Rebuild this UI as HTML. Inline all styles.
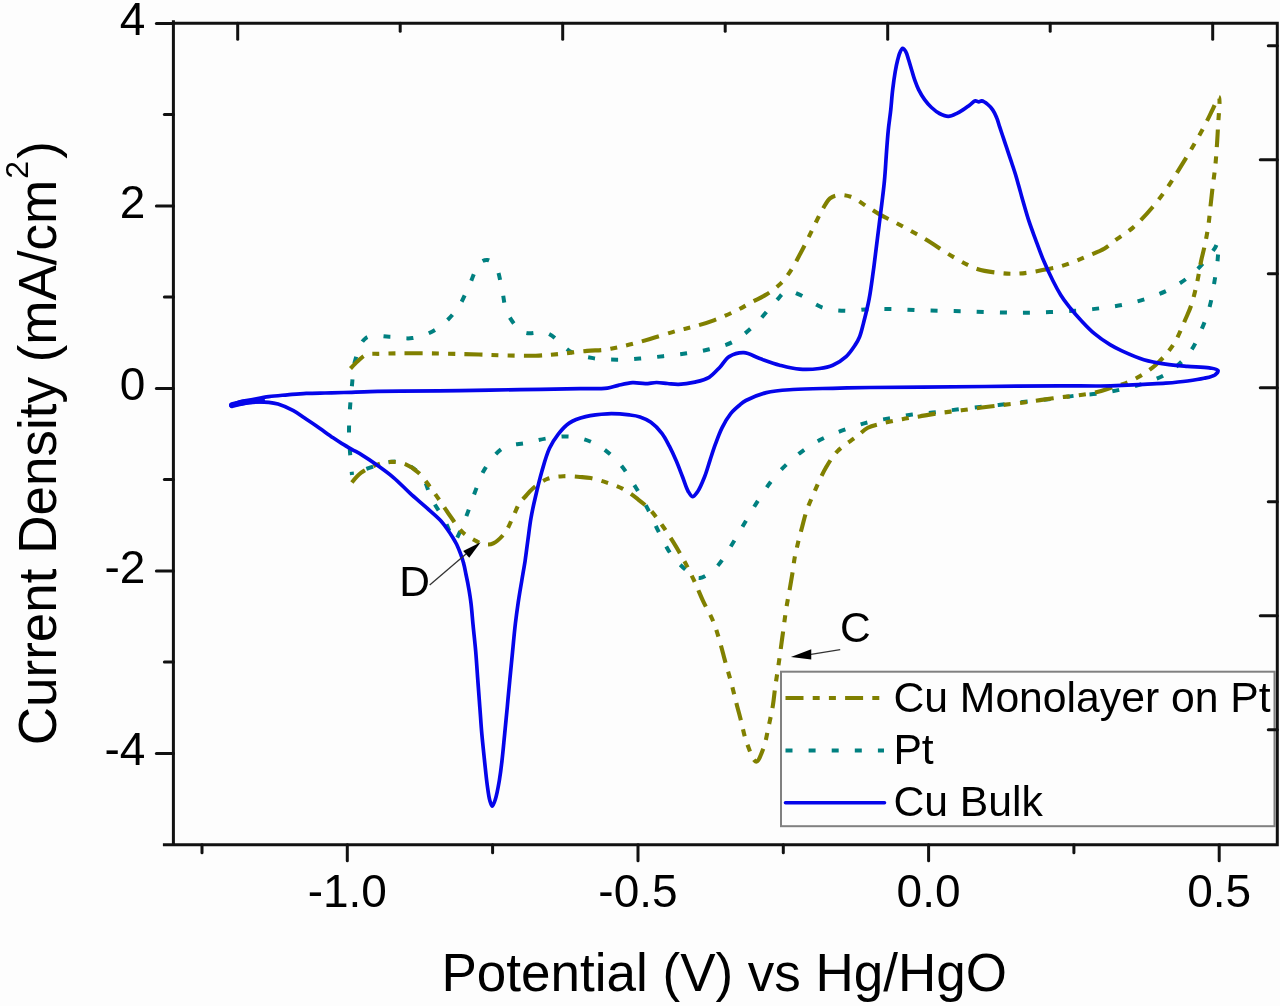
<!DOCTYPE html>
<html><head><meta charset="utf-8"><title>Cyclic voltammetry</title><style>
html,body{margin:0;padding:0;background:#fdfdfd;overflow:hidden}
svg{display:block}
text{font-family:"Liberation Sans",Arial,sans-serif;fill:#000}
</style></head><body>
<svg width="1280" height="1006" viewBox="0 0 1280 1006">
<rect x="781" y="671.7" width="493.5" height="154.5" fill="#fdfdfd" stroke="#808080" stroke-width="2"/>
<line x1="785.5" y1="698" x2="882" y2="698" stroke="#808000" stroke-width="4.2" stroke-dasharray="18 9.2 7 9.2 7 9.2"/>
<line x1="785.5" y1="750.6" x2="884" y2="750.6" stroke="#008080" stroke-width="4" stroke-dasharray="7 16.1"/>
<line x1="785.5" y1="802.8" x2="884.5" y2="802.8" stroke="#0505ea" stroke-width="3.6" stroke-linecap="round"/>
<text x="893.4" y="711.5" font-size="42.7">Cu Monolayer on Pt</text>
<text x="893.4" y="763.5" font-size="42.7">Pt</text>
<text x="893.4" y="816.4" font-size="42.7">Cu Bulk</text>
<path d="M173.4,23.3 H1277.3 V844.8 H164.4 M173.4,844.8 V21.8" fill="none" stroke="#111" stroke-width="3" stroke-linecap="square"/>
<line x1="156.4" y1="23.4" x2="173.4" y2="23.4" stroke="#111" stroke-width="3" stroke-linecap="round"/>
<line x1="164.4" y1="114.6" x2="173.4" y2="114.6" stroke="#111" stroke-width="3" stroke-linecap="round"/>
<line x1="156.4" y1="205.9" x2="173.4" y2="205.9" stroke="#111" stroke-width="3" stroke-linecap="round"/>
<line x1="164.4" y1="297.1" x2="173.4" y2="297.1" stroke="#111" stroke-width="3" stroke-linecap="round"/>
<line x1="156.4" y1="388.4" x2="173.4" y2="388.4" stroke="#111" stroke-width="3" stroke-linecap="round"/>
<line x1="164.4" y1="479.6" x2="173.4" y2="479.6" stroke="#111" stroke-width="3" stroke-linecap="round"/>
<line x1="156.4" y1="570.9" x2="173.4" y2="570.9" stroke="#111" stroke-width="3" stroke-linecap="round"/>
<line x1="164.4" y1="662.1" x2="173.4" y2="662.1" stroke="#111" stroke-width="3" stroke-linecap="round"/>
<line x1="156.4" y1="753.4" x2="173.4" y2="753.4" stroke="#111" stroke-width="3" stroke-linecap="round"/>
<line x1="202.0" y1="844.8" x2="202.0" y2="852.8" stroke="#111" stroke-width="3" stroke-linecap="round"/>
<line x1="347.3" y1="844.8" x2="347.3" y2="860.8" stroke="#111" stroke-width="3" stroke-linecap="round"/>
<line x1="492.6" y1="844.8" x2="492.6" y2="852.8" stroke="#111" stroke-width="3" stroke-linecap="round"/>
<line x1="638.0" y1="844.8" x2="638.0" y2="860.8" stroke="#111" stroke-width="3" stroke-linecap="round"/>
<line x1="783.3" y1="844.8" x2="783.3" y2="852.8" stroke="#111" stroke-width="3" stroke-linecap="round"/>
<line x1="928.6" y1="844.8" x2="928.6" y2="860.8" stroke="#111" stroke-width="3" stroke-linecap="round"/>
<line x1="1073.9" y1="844.8" x2="1073.9" y2="852.8" stroke="#111" stroke-width="3" stroke-linecap="round"/>
<line x1="1219.2" y1="844.8" x2="1219.2" y2="860.8" stroke="#111" stroke-width="3" stroke-linecap="round"/>
<line x1="237.7" y1="23.3" x2="237.7" y2="39.3" stroke="#111" stroke-width="3" stroke-linecap="round"/>
<line x1="400.2" y1="23.3" x2="400.2" y2="31.3" stroke="#111" stroke-width="3" stroke-linecap="round"/>
<line x1="562.7" y1="23.3" x2="562.7" y2="39.3" stroke="#111" stroke-width="3" stroke-linecap="round"/>
<line x1="725.2" y1="23.3" x2="725.2" y2="31.3" stroke="#111" stroke-width="3" stroke-linecap="round"/>
<line x1="887.7" y1="23.3" x2="887.7" y2="39.3" stroke="#111" stroke-width="3" stroke-linecap="round"/>
<line x1="1050.2" y1="23.3" x2="1050.2" y2="31.3" stroke="#111" stroke-width="3" stroke-linecap="round"/>
<line x1="1212.7" y1="23.3" x2="1212.7" y2="39.3" stroke="#111" stroke-width="3" stroke-linecap="round"/>
<line x1="1268.3" y1="45.8" x2="1277.3" y2="45.8" stroke="#111" stroke-width="3" stroke-linecap="round"/>
<line x1="1260.3" y1="159.8" x2="1277.3" y2="159.8" stroke="#111" stroke-width="3" stroke-linecap="round"/>
<line x1="1268.3" y1="273.8" x2="1277.3" y2="273.8" stroke="#111" stroke-width="3" stroke-linecap="round"/>
<line x1="1260.3" y1="387.8" x2="1277.3" y2="387.8" stroke="#111" stroke-width="3" stroke-linecap="round"/>
<line x1="1268.3" y1="501.8" x2="1277.3" y2="501.8" stroke="#111" stroke-width="3" stroke-linecap="round"/>
<line x1="1260.3" y1="615.8" x2="1277.3" y2="615.8" stroke="#111" stroke-width="3" stroke-linecap="round"/>
<line x1="1268.3" y1="729.8" x2="1277.3" y2="729.8" stroke="#111" stroke-width="3" stroke-linecap="round"/>
<path d="M352.0,475.0 C352.0,475.0 350.5,459.5 350.0,452.0 C349.5,444.8 349.0,438.2 349.0,431.0 C349.0,423.5 349.5,415.7 350.0,408.0 C350.5,400.3 351.2,392.7 352.0,385.0 C352.8,377.1 352.7,368.8 355.0,361.0 C357.3,353.0 360.1,341.8 366.1,337.8 C371.8,334.0 381.5,336.6 389.2,336.7 C396.9,336.8 404.6,339.2 412.2,338.1 C420.0,337.0 428.2,334.2 435.3,329.8 C443.1,325.0 451.1,317.0 456.7,309.6 C462.0,302.7 464.8,294.6 468.6,286.9 C472.5,279.1 475.5,267.0 479.8,263.0 C482.2,260.8 485.0,259.7 487.5,260.0 C490.3,260.4 493.5,263.0 495.7,266.2 C499.1,271.2 500.1,281.5 502.0,289.3 C504.0,297.2 503.8,306.0 507.4,313.1 C511.0,320.3 517.0,328.9 523.8,332.2 C530.3,335.3 539.5,330.3 546.9,333.0 C555.5,336.1 563.1,347.9 571.5,352.1 C578.6,355.7 585.7,356.8 593.1,358.1 C600.7,359.4 608.9,359.6 616.7,359.7 C624.4,359.8 631.9,359.2 639.6,358.6 C647.4,358.0 655.3,357.1 663.2,356.2 C671.0,355.3 679.0,354.5 686.7,353.3 C694.3,352.2 701.7,351.2 709.3,349.3 C717.2,347.3 725.7,345.7 733.2,341.7 C741.3,337.4 748.9,330.2 756.0,323.5 C763.2,316.7 770.2,306.9 776.0,301.0 C780.1,296.9 782.9,291.9 787.0,291.0 C790.8,290.1 794.8,292.7 799.5,294.7 C806.2,297.5 814.7,304.9 822.7,307.6 C830.2,310.1 838.0,310.5 845.7,310.8 C853.6,311.1 861.7,309.4 869.5,309.1 C877.1,308.8 884.5,309.0 892.1,309.1 C899.8,309.2 907.4,309.7 915.2,310.0 C923.1,310.3 931.1,310.5 939.0,310.7 C946.8,310.9 954.4,311.0 962.1,311.2 C969.8,311.4 977.2,311.8 985.1,312.0 C993.4,312.2 1002.6,312.5 1010.8,312.6 C1018.2,312.7 1024.7,312.7 1032.0,312.6 C1039.7,312.5 1047.7,312.2 1055.6,311.8 C1063.5,311.4 1071.5,311.0 1079.3,310.4 C1087.0,309.8 1094.5,309.0 1102.1,308.0 C1109.7,307.0 1117.4,306.0 1125.0,304.4 C1132.8,302.7 1140.5,300.7 1148.2,298.1 C1156.0,295.4 1163.9,292.5 1171.5,288.3 C1179.6,283.8 1187.9,278.2 1195.0,271.6 C1202.4,264.8 1211.3,253.5 1214.9,248.1 C1216.6,245.5 1217.4,241.8 1218.0,242.0 C1219.0,242.2 1218.2,253.2 1217.7,259.2 C1217.2,265.8 1215.9,272.7 1214.7,280.0 C1213.4,288.0 1212.2,297.1 1210.0,305.3 C1207.9,313.3 1205.2,320.9 1201.9,328.6 C1198.5,336.5 1195.3,344.9 1190.0,352.0 C1184.4,359.5 1176.6,367.1 1168.9,372.3 C1161.8,377.1 1153.8,379.9 1146.0,382.7 C1138.3,385.5 1130.3,387.4 1122.4,389.2 C1114.6,391.0 1106.8,392.4 1099.0,393.5 C1091.3,394.6 1083.6,394.7 1075.8,395.6 C1068.0,396.5 1060.0,397.9 1052.2,398.9 C1044.6,399.8 1037.1,400.4 1029.5,401.3 C1021.8,402.2 1013.9,403.2 1006.1,404.1 C998.3,405.0 990.4,405.9 982.7,406.7 C975.1,407.5 967.7,408.2 960.0,409.1 C952.1,410.0 943.8,411.3 935.8,412.2 C927.9,413.1 920.1,413.5 912.3,414.5 C904.5,415.5 896.4,417.1 888.9,418.4 C881.9,419.6 875.4,420.5 868.5,422.2 C861.1,424.0 853.6,426.5 846.0,429.2 C838.0,432.0 829.6,435.0 821.9,439.0 C814.1,443.0 806.8,447.7 799.5,453.3 C791.6,459.4 783.2,467.1 776.5,474.7 C770.1,481.9 765.2,489.7 760.0,497.5 C754.9,505.2 750.4,513.4 745.7,521.2 C741.1,528.9 737.1,536.4 732.3,544.0 C727.3,551.9 722.0,561.7 716.0,567.6 C711.1,572.4 704.1,577.4 700.0,578.0 C697.8,578.3 696.7,577.7 694.5,576.5 C689.4,573.7 678.9,564.2 673.0,556.9 C667.3,549.9 663.8,541.5 659.6,533.6 C655.4,525.7 652.1,517.2 648.0,509.4 C644.0,501.7 640.1,494.5 635.5,487.0 C630.5,479.0 625.5,470.1 619.0,463.0 C612.5,455.9 604.6,448.9 596.6,444.5 C589.2,440.4 581.0,437.9 573.1,436.8 C565.5,435.8 557.8,436.9 550.1,437.9 C542.3,438.9 534.4,441.1 526.6,442.8 C518.8,444.4 510.1,443.8 503.3,447.8 C496.0,452.1 489.7,461.1 485.0,468.6 C480.5,475.8 478.1,484.0 475.1,491.8 C472.1,499.5 469.8,507.3 466.8,515.0 C463.8,522.7 459.2,534.0 457.0,538.0 C456.2,539.5 455.9,541.1 455.0,541.0 C452.7,540.9 447.9,526.1 444.0,519.0 C440.1,512.1 435.3,506.0 431.6,498.9 C427.7,491.5 426.7,481.8 421.4,475.6 C416.0,469.4 407.2,463.4 399.4,461.9 C391.7,460.4 382.9,463.8 375.0,466.0 C367.1,468.2 352.0,475.0 352.0,475.0" fill="none" stroke="#008080" stroke-width="4" stroke-dasharray="7 16.1" stroke-dashoffset="3.5" stroke-linejoin="round"/>
<path d="M350.5,368.5 C350.5,368.5 355.3,363.3 358.0,361.0 C360.6,358.7 363.0,355.8 366.4,354.6 C370.2,353.2 374.4,354.0 380.0,353.8 C389.3,353.5 403.1,353.2 417.0,353.2 C435.0,353.2 463.8,354.1 479.0,354.5 C487.9,354.8 492.1,355.1 500.0,355.3 C510.3,355.6 525.3,356.0 535.8,355.7 C544.1,355.4 550.1,354.8 558.0,354.1 C567.0,353.3 578.6,351.6 587.0,350.9 C593.4,350.3 598.7,350.5 604.0,349.8 C608.7,349.2 612.6,348.3 617.2,347.4 C622.3,346.4 627.7,345.2 633.1,343.8 C638.7,342.4 643.7,340.8 650.0,339.0 C657.9,336.7 668.6,333.1 676.5,330.9 C682.9,329.1 688.0,328.3 694.0,326.6 C700.4,324.8 707.1,322.8 713.8,320.3 C721.1,317.6 729.4,314.0 736.1,310.7 C741.9,307.9 746.8,304.8 752.0,302.0 C756.9,299.4 761.6,297.6 766.3,294.6 C771.5,291.3 777.2,287.1 781.6,282.6 C785.9,278.2 789.3,272.8 792.5,267.8 C795.6,263.0 797.9,258.1 800.5,253.2 C803.1,248.3 805.6,243.4 808.1,238.4 C810.7,233.2 813.3,227.6 815.8,222.5 C818.2,217.7 820.4,213.0 822.9,208.8 C825.2,205.0 827.2,200.7 830.0,198.4 C832.3,196.5 834.7,195.6 837.7,195.2 C841.4,194.7 846.4,195.3 850.8,196.8 C856.2,198.6 862.0,203.5 867.2,206.7 C871.8,209.5 875.8,212.3 880.4,214.9 C885.4,217.7 890.1,219.7 896.1,222.9 C904.2,227.2 915.1,233.1 924.7,238.8 C934.7,244.7 945.5,252.6 954.9,257.9 C962.8,262.3 969.6,266.5 977.2,269.0 C984.4,271.4 992.7,272.2 999.4,273.0 C1004.8,273.6 1009.3,273.9 1014.2,273.8 C1019.0,273.7 1023.6,273.3 1028.6,272.6 C1034.0,271.9 1040.3,270.5 1045.5,269.5 C1050.0,268.6 1053.7,268.2 1058.1,267.0 C1063.2,265.7 1069.1,263.5 1074.2,261.6 C1078.9,259.8 1083.0,258.0 1087.7,256.0 C1093.0,253.7 1099.6,251.4 1104.6,248.4 C1109.2,245.7 1112.5,242.4 1116.9,239.2 C1121.9,235.5 1127.6,232.3 1133.0,227.6 C1139.5,222.0 1146.7,214.1 1152.7,207.0 C1158.6,200.1 1164.1,192.3 1168.8,185.5 C1172.9,179.6 1175.8,174.5 1179.5,168.6 C1183.5,162.1 1187.9,155.0 1192.0,148.0 C1196.3,140.7 1201.0,132.5 1204.6,125.6 C1207.7,119.8 1210.1,114.5 1212.6,109.5 C1214.8,105.1 1217.7,96.7 1218.9,97.0 C1220.6,97.4 1218.4,118.1 1218.0,126.5 C1217.7,132.7 1217.5,136.7 1217.1,142.6 C1216.6,149.7 1216.1,158.3 1215.3,165.9 C1214.6,173.2 1213.4,180.7 1212.6,187.3 C1211.9,193.0 1211.5,197.5 1210.8,203.4 C1210.0,210.5 1209.3,219.3 1208.2,226.7 C1207.2,233.5 1205.9,239.9 1204.6,246.0 C1203.5,251.5 1202.1,256.0 1201.0,261.5 C1199.7,267.6 1198.9,274.2 1197.4,281.1 C1195.7,288.8 1193.6,298.2 1191.2,305.3 C1189.3,311.0 1187.2,315.1 1184.9,320.5 C1182.2,326.7 1179.0,334.7 1176.0,340.2 C1173.6,344.4 1171.7,347.2 1168.8,350.9 C1165.2,355.5 1160.2,361.0 1155.4,365.2 C1150.7,369.3 1145.3,372.9 1140.2,376.0 C1135.5,378.8 1130.7,381.2 1125.9,383.1 C1121.2,385.0 1116.4,386.0 1111.6,387.5 C1106.8,389.0 1102.5,390.8 1097.2,392.1 C1090.8,393.6 1082.6,394.7 1075.8,395.6 C1069.6,396.5 1063.9,396.9 1057.9,397.6 C1051.9,398.4 1045.8,399.3 1040.0,400.1 C1034.5,400.9 1029.8,401.7 1024.0,402.5 C1016.9,403.4 1008.0,404.3 1000.6,405.2 C994.0,406.0 988.3,406.7 981.9,407.5 C975.3,408.4 968.5,409.4 961.6,410.3 C954.4,411.2 946.9,412.0 939.7,413.0 C932.8,414.0 925.9,415.3 919.4,416.4 C913.4,417.4 908.3,418.1 902.2,419.2 C895.3,420.5 886.6,422.3 880.3,423.9 C875.5,425.2 871.7,425.8 867.8,427.8 C863.8,429.9 861.0,433.1 856.8,436.4 C851.2,440.8 842.4,446.1 837.1,451.6 C832.6,456.3 829.8,461.1 826.4,466.8 C822.5,473.4 818.9,481.7 815.6,489.1 C812.4,496.3 809.0,503.9 806.7,510.6 C804.7,516.3 803.7,521.2 802.2,526.7 C800.6,532.6 798.8,539.4 797.5,545.0 C796.4,549.6 795.5,553.5 794.7,557.7 C793.9,561.9 793.6,565.8 792.9,570.3 C792.1,575.3 791.2,580.7 790.2,586.4 C789.1,592.9 787.6,600.0 786.5,607.1 C785.3,614.6 784.2,623.3 783.3,630.1 C782.6,635.5 782.0,639.3 781.3,644.7 C780.4,651.5 779.2,660.2 778.1,667.7 C777.1,674.8 775.9,682.0 775.0,688.6 C774.2,694.5 773.9,699.4 772.9,705.3 C771.8,711.9 770.2,719.1 768.7,726.1 C767.1,733.3 765.9,741.8 763.5,748.1 C761.5,753.3 758.7,761.6 756.2,761.6 C753.2,761.6 749.4,749.6 746.8,742.8 C744.0,735.4 742.4,725.9 740.5,718.8 C739.0,713.0 737.8,708.8 736.4,703.2 C734.7,696.7 733.0,689.3 731.1,682.3 C729.2,675.1 726.7,667.1 724.9,660.4 C723.3,654.7 722.4,650.4 720.7,644.7 C718.7,637.8 716.4,629.1 713.4,621.8 C710.5,614.6 706.0,607.4 703.0,600.9 C700.4,595.4 698.6,590.6 696.3,585.5 C694.0,580.4 691.5,575.2 689.1,570.3 C686.8,565.7 684.6,561.5 682.0,556.9 C679.2,551.9 676.2,546.7 673.0,541.6 C669.7,536.3 666.1,530.8 662.3,525.5 C658.4,520.1 654.2,514.0 649.8,509.4 C645.8,505.2 641.6,502.1 637.2,498.7 C632.7,495.2 628.0,491.6 622.9,488.9 C617.8,486.2 612.2,484.4 606.8,482.6 C601.5,480.8 595.6,479.0 590.7,478.1 C586.8,477.4 584.0,477.3 580.0,477.0 C575.0,476.6 568.7,475.9 563.2,476.2 C557.8,476.5 552.3,477.0 547.4,478.9 C542.3,480.9 537.1,484.8 533.1,488.2 C529.6,491.1 526.9,494.8 524.4,497.5 C522.5,499.6 521.1,500.6 519.5,503.0 C517.2,506.5 515.3,512.4 512.9,517.2 C510.4,522.4 508.2,528.6 504.7,533.1 C501.5,537.3 496.7,541.7 493.2,543.4 C491.0,544.5 489.0,544.5 487.0,544.5 C485.0,544.5 482.9,543.9 481.2,543.4 C479.8,543.0 479.0,542.6 477.4,541.7 C474.0,539.9 467.0,536.3 462.6,532.3 C458.0,528.1 454.4,521.9 450.7,516.8 C447.2,512.0 444.4,507.2 441.1,502.5 C437.8,497.7 434.6,493.0 431.0,488.2 C427.1,483.1 423.2,476.9 418.5,472.7 C414.2,468.8 409.0,465.5 404.1,463.7 C399.8,462.1 395.0,461.9 391.0,461.9 C387.7,461.9 385.5,462.0 382.0,463.0 C376.4,464.6 367.0,468.4 361.2,472.7 C355.7,476.8 347.6,488.0 347.6,488.0" fill="none" stroke="#808000" stroke-width="4.1" stroke-dasharray="18 9.2 7 9.2 7 9.2" stroke-linejoin="round"/>
<path d="M231.0,405.5 C231.0,405.5 236.9,402.7 240.0,401.8 C243.2,400.9 246.1,400.7 250.0,400.0 C255.3,399.1 262.5,397.6 268.8,396.7 C275.0,395.8 281.2,395.4 287.5,394.8 C293.7,394.3 300.0,393.7 306.2,393.4 C312.5,393.1 318.8,393.1 325.0,393.0 C331.3,392.8 337.0,392.7 343.8,392.5 C351.8,392.3 361.0,391.8 370.0,391.6 C379.7,391.4 388.3,391.3 400.0,391.2 C416.6,391.0 440.0,390.9 460.0,390.6 C480.0,390.3 500.0,389.9 520.0,389.6 C540.0,389.3 563.9,389.0 580.0,388.7 C590.9,388.5 600.4,389.0 607.4,388.1 C611.9,387.5 614.4,386.2 618.3,385.4 C622.7,384.4 627.8,383.0 632.5,382.7 C636.9,382.4 641.4,383.7 645.6,383.6 C649.4,383.5 652.9,382.5 656.6,382.5 C660.2,382.5 663.9,383.2 667.5,383.5 C671.2,383.8 674.5,384.4 678.5,384.3 C683.4,384.2 689.7,383.3 694.9,382.1 C699.9,380.9 704.9,379.8 709.1,377.3 C713.2,374.8 716.5,370.7 719.9,367.2 C723.2,363.8 725.3,359.0 729.2,356.6 C733.2,354.1 738.9,352.4 743.8,352.6 C749.0,352.8 754.2,356.6 759.8,358.6 C766.1,360.8 773.0,363.4 779.7,365.2 C786.3,366.9 792.9,368.7 799.6,369.2 C806.2,369.7 813.6,369.3 819.5,368.5 C824.4,367.8 828.5,367.1 832.8,365.2 C837.4,363.2 842.3,360.1 846.1,356.6 C849.8,353.2 853.0,348.2 855.4,344.6 C857.2,341.9 858.3,340.0 859.5,337.0 C861.1,333.1 862.1,328.4 863.5,323.1 C865.3,316.2 867.5,307.8 869.1,299.2 C871.0,289.4 872.3,278.0 873.8,267.4 C875.2,256.8 876.5,246.2 877.8,235.6 C879.1,225.0 880.6,213.6 881.8,203.8 C882.8,195.3 883.8,188.0 884.5,180.0 C885.3,171.8 885.7,163.3 886.3,155.0 C886.9,146.7 887.5,137.9 888.3,130.0 C889.0,122.8 890.1,116.3 890.8,109.5 C891.5,102.8 891.9,96.0 892.7,89.6 C893.4,83.5 894.3,77.0 895.2,71.7 C896.0,67.3 896.8,63.3 897.7,59.8 C898.5,56.9 899.2,53.9 900.2,51.9 C900.9,50.4 901.8,48.5 902.7,48.4 C903.6,48.3 904.8,50.0 905.7,51.4 C907.0,53.4 907.7,56.9 908.6,59.8 C909.6,63.0 910.6,66.5 911.6,69.8 C912.6,73.1 913.4,76.4 914.6,79.7 C915.8,83.0 917.0,86.4 918.6,89.6 C920.3,93.0 922.4,96.6 924.6,99.6 C926.7,102.5 929.0,105.2 931.5,107.5 C934.0,109.8 936.6,112.0 939.5,113.5 C942.3,114.9 945.5,116.4 948.4,116.3 C951.3,116.3 954.4,114.5 956.9,113.3 C959.1,112.3 960.9,111.2 962.9,109.9 C965.2,108.4 967.6,106.5 969.8,104.9 C971.7,103.5 973.6,101.2 975.3,100.9 C976.5,100.7 977.7,101.9 978.8,101.9 C979.8,101.9 980.6,100.8 981.7,100.9 C983.4,101.1 985.9,102.9 987.7,104.4 C989.6,105.9 991.2,107.8 992.7,109.9 C994.3,112.2 995.6,115.0 996.7,117.8 C997.9,120.6 998.5,123.5 999.6,126.7 C1000.8,130.4 1002.3,134.7 1003.6,138.7 C1004.9,142.7 1006.3,146.6 1007.6,150.6 C1008.9,154.6 1010.3,158.5 1011.6,162.5 C1012.9,166.5 1014.3,170.6 1015.5,174.5 C1016.6,178.1 1017.5,181.4 1018.5,185.0 C1019.6,188.8 1020.5,192.2 1021.8,196.9 C1023.8,203.8 1026.8,214.6 1029.3,222.2 C1031.4,228.5 1033.3,233.3 1035.5,239.3 C1038.0,246.1 1040.8,254.1 1043.8,261.1 C1046.6,267.8 1049.8,274.6 1052.8,280.5 C1055.4,285.7 1057.9,290.4 1060.7,294.9 C1063.3,299.1 1066.0,302.7 1069.1,306.7 C1072.6,311.1 1076.7,315.8 1080.9,320.2 C1085.2,324.8 1089.6,329.6 1094.5,333.7 C1099.3,337.8 1105.1,341.7 1110.0,344.7 C1114.1,347.2 1117.3,348.8 1121.9,350.9 C1128.0,353.7 1136.4,357.5 1143.8,359.7 C1151.0,361.8 1158.3,363.0 1165.6,364.1 C1172.9,365.2 1180.2,365.7 1187.5,366.3 C1194.8,366.9 1203.8,366.9 1209.4,367.9 C1213.0,368.6 1217.5,369.0 1218.0,370.5 C1218.4,371.6 1216.5,373.8 1214.9,375.0 C1212.5,376.7 1208.0,377.4 1203.9,378.3 C1199.0,379.4 1193.4,380.2 1187.5,381.0 C1180.7,381.9 1172.9,382.6 1165.6,383.2 C1158.3,383.7 1151.1,383.9 1143.8,384.3 C1136.5,384.7 1129.2,385.1 1121.9,385.4 C1114.6,385.7 1108.4,385.9 1100.0,386.0 C1088.7,386.1 1075.4,385.8 1060.0,385.8 C1038.9,385.8 1008.9,386.3 985.0,386.5 C963.1,386.7 942.0,387.0 922.0,387.2 C903.8,387.4 885.9,387.3 870.0,387.5 C856.6,387.7 845.4,388.0 832.8,388.3 C819.8,388.6 804.9,388.6 793.0,389.5 C783.2,390.2 774.6,390.6 766.4,392.6 C759.0,394.4 750.6,398.0 745.9,400.5 C743.2,402.0 742.1,403.0 740.0,404.8 C737.2,407.1 733.5,410.1 730.7,413.6 C727.5,417.6 724.5,422.8 722.0,427.8 C719.4,433.0 717.4,438.7 715.4,444.2 C713.4,449.6 711.7,455.1 709.9,460.6 C708.1,466.1 706.6,471.8 704.5,477.0 C702.5,482.0 700.3,487.7 697.9,491.2 C696.2,493.6 694.2,496.7 692.5,496.6 C690.9,496.5 689.5,493.6 688.1,491.2 C686.1,487.7 684.5,481.9 682.6,477.0 C680.5,471.7 678.4,465.8 676.1,460.6 C674.0,455.7 671.9,451.0 669.5,446.4 C667.1,441.9 665.0,437.3 661.9,433.3 C658.8,429.3 654.8,425.1 650.9,422.3 C647.5,419.8 643.7,418.1 640.0,416.9 C636.5,415.7 633.6,415.4 629.4,414.9 C623.4,414.2 614.8,413.5 607.5,413.8 C600.2,414.1 592.3,414.9 585.6,416.6 C579.6,418.1 573.8,420.0 569.2,423.1 C564.8,426.0 561.5,430.0 558.3,434.1 C554.9,438.4 552.1,442.8 549.5,448.3 C546.4,454.9 544.2,463.3 541.9,471.3 C539.5,479.7 537.2,489.3 535.3,497.5 C533.6,504.7 532.2,511.0 531.0,518.0 C529.7,525.2 528.9,532.8 527.9,540.0 C526.9,547.1 526.1,554.0 525.1,560.9 C524.0,567.9 522.7,574.8 521.6,581.7 C520.4,588.7 519.2,595.6 518.2,602.6 C517.2,609.5 516.3,616.0 515.4,623.4 C514.4,632.0 513.5,641.9 512.6,651.3 C511.7,660.8 510.7,670.6 509.8,680.0 C508.9,689.1 508.1,697.9 507.3,706.8 C506.4,715.8 505.6,724.7 504.7,733.7 C503.8,742.6 503.0,752.2 502.0,760.5 C501.2,767.7 500.4,774.1 499.3,780.7 C498.2,787.1 496.8,794.9 495.3,799.5 C494.4,802.4 493.2,806.2 492.3,806.2 C491.5,806.2 490.6,803.1 489.9,800.8 C488.7,796.9 488.0,790.6 487.2,784.7 C486.2,777.5 485.4,768.8 484.5,760.5 C483.6,751.8 482.6,742.6 481.8,733.7 C481.0,724.7 480.5,715.8 479.8,706.8 C479.1,697.9 478.5,689.1 477.8,680.0 C477.1,670.6 476.5,660.8 475.7,651.3 C474.9,641.9 473.7,632.0 472.9,623.4 C472.2,616.0 471.7,608.8 470.9,602.6 C470.3,597.5 469.6,593.4 468.8,588.7 C468.0,583.9 466.9,578.6 465.9,574.0 C465.1,570.0 464.4,566.1 463.4,562.6 C462.6,559.5 461.7,556.8 460.6,553.9 C459.4,550.8 458.0,547.2 456.6,544.3 C455.3,541.7 454.0,539.5 452.6,537.2 C451.1,534.8 449.6,532.5 447.8,530.0 C445.8,527.1 443.9,524.2 441.0,521.0 C437.2,516.8 431.5,512.2 426.5,507.7 C421.3,503.0 415.6,498.3 410.2,493.4 C404.7,488.4 399.6,482.7 393.8,477.8 C387.9,472.8 380.9,467.8 375.2,463.8 C370.6,460.5 366.6,457.8 362.5,455.3 C358.8,453.0 355.3,451.3 351.8,449.3 C348.5,447.4 345.2,445.5 342.0,443.6 C338.9,441.7 336.5,440.1 333.1,437.8 C328.5,434.6 321.8,429.7 316.8,426.2 C312.6,423.3 308.9,420.9 305.0,418.3 C301.1,415.7 297.7,412.9 293.4,410.6 C288.7,408.1 282.6,405.4 278.0,404.0 C274.6,403.0 271.9,402.6 268.8,402.3 C265.7,402.0 262.5,401.9 259.4,401.9 C256.3,401.9 253.2,402.0 250.0,402.3 C246.7,402.6 243.2,403.5 240.0,404.0 C236.9,404.5 231.0,405.5 231.0,405.5" fill="none" stroke="#0505ea" stroke-width="3.7" stroke-linejoin="round" stroke-linecap="round"/>
<path d="M232,405.2 C240,402.5 250,401 262,400.6" fill="none" stroke="#0505ea" stroke-width="6" stroke-linecap="round"/>
<text x="399.2" y="596" font-size="42.5">D</text>
<line x1="429.7" y1="585" x2="466" y2="554" stroke="#333" stroke-width="1.3"/>
<polygon points="480.7,542.3 463.2,551.1 469.2,557.7" fill="#000"/>
<text x="840" y="642.4" font-size="42.5">C</text>
<line x1="840.2" y1="649.6" x2="811" y2="654.3" stroke="#333" stroke-width="1.3"/>
<polygon points="790.9,656.9 811.25,649.2 811.25,659.4" fill="#000"/>
<text x="145.3" y="35.0" text-anchor="end" font-size="46">4</text>
<text x="145.3" y="217.5" text-anchor="end" font-size="46">2</text>
<text x="145.3" y="400.0" text-anchor="end" font-size="46">0</text>
<text x="145.3" y="582.5" text-anchor="end" font-size="46">-2</text>
<text x="145.3" y="765.0" text-anchor="end" font-size="46">-4</text>
<text x="347.3" y="906.8" text-anchor="middle" font-size="46">-1.0</text>
<text x="638.0" y="906.8" text-anchor="middle" font-size="46">-0.5</text>
<text x="928.6" y="906.8" text-anchor="middle" font-size="46">0.0</text>
<text x="1219.2" y="906.8" text-anchor="middle" font-size="46">0.5</text>
<text x="441.5" y="990.5" font-size="53">Potential (V) vs Hg/HgO</text>
<text transform="translate(56,745.2) rotate(-90)" x="0" y="0" font-size="53">Current Density (mA/cm<tspan dx="1" dy="-28.5" font-size="32">2</tspan><tspan dx="2.2" dy="28.5">)</tspan></text>
</svg>
</body></html>
